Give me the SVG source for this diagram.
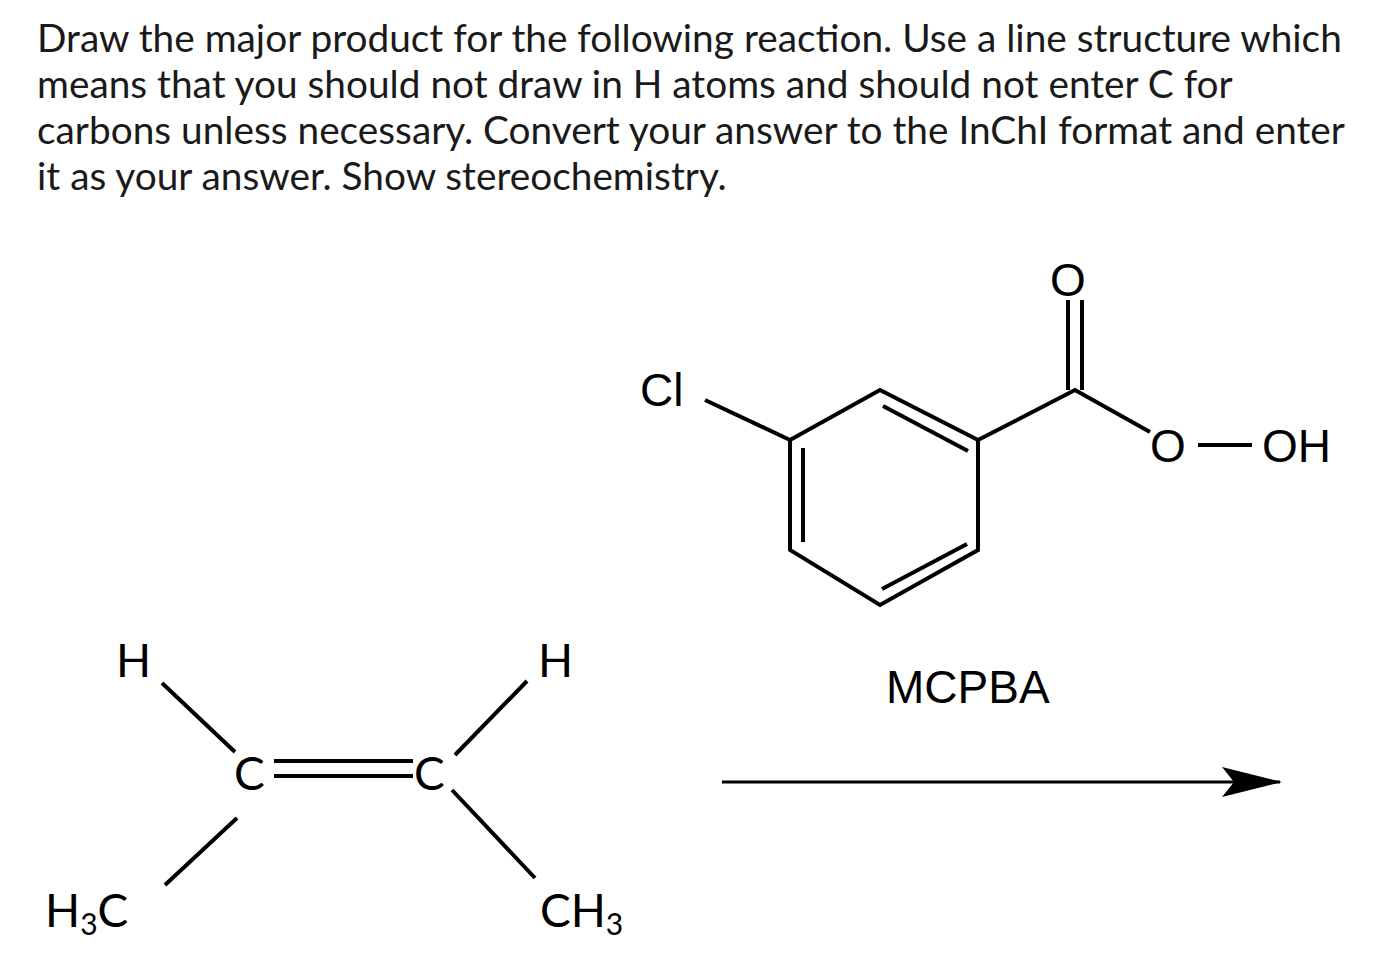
<svg xmlns="http://www.w3.org/2000/svg" width="1376" height="974" viewBox="0 0 1376 974">
<style>
.q{font-family:Lato,"Liberation Sans",sans-serif;font-size:38.8px;fill:#1a1a1a}
.a{font-family:"Liberation Sans",Arial,sans-serif;font-size:46px;fill:#000}
.l{font-family:Lato,"Liberation Sans",sans-serif;font-size:46px;fill:#000}
.b{stroke:#000;stroke-width:4;fill:none}
</style>
<defs><marker id="ah" markerWidth="60" markerHeight="30" refX="58" refY="15" orient="auto" markerUnits="userSpaceOnUse"><path d="M0,0 L60,15 L0,30 L12,15 Z" fill="#000"/></marker></defs>
<g id="question">
<text class="q" x="37" y="52">Draw the major product for the following reaction. Use a line structure which</text>
<text class="q" x="37" y="98">means that you should not draw in H atoms and should not enter C for</text>
<text class="q" x="37" y="144">carbons unless necessary.  Convert your answer to the InChI format and enter</text>
<text class="q" x="37" y="190">it as your answer. Show stereochemistry.</text>
</g>
<g id="mcpba">
<text class="a" x="640" y="406">Cl</text>
<text class="a" x="1050" y="296">O</text>
<text class="a" x="1150" y="462">O</text>
<text class="a" x="1262" y="462">OH</text>
<text class="a" x="886" y="703" font-size="68">MCPBA</text>
</g>
<g id="alkene">
<text class="l" x="116" y="677">H</text>
<text class="l" x="538" y="677">H</text>
<text class="l" x="234" y="790">C</text>
<text class="l" x="414" y="790">C</text>
<text class="l" x="45" y="927">H<tspan font-size="30" dy="8">3</tspan><tspan dy="-8">C</tspan></text>
<text class="l" x="540" y="927">CH<tspan font-size="30" dy="8">3</tspan></text>
</g>
<g id="connectors">
<path class="b" d="M790,440 L880,390 L978,440 L978,550 L880,605 L790,550 Z M705,400 L790,440"/>
<path class="b" d="M883,406 L968,451 M803,448 L803,542 M882,589 L967,544"/>
<path class="b" d="M978,440 L1075,390 L1150,432 M1068,390 L1068,300 M1082,390 L1082,300 M1198,445 L1252,445"/>
<path class="b" d="M162,683 L235,752 M274,761 L413,761 M274,776 L413,776 M455,755 L527,681 M237,818 L165,885 M452,790 L535,878"/>
<line x1="722" y1="782" x2="1280" y2="782" stroke="#000" stroke-width="3" marker-end="url(#ah)"/>
</g>
</svg>
